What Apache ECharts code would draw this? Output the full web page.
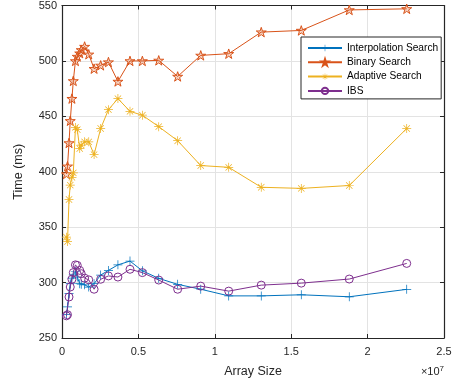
<!DOCTYPE html>
<html>
<head>
<meta charset="utf-8">
<script src="https://cdn.jsdelivr.net/npm/echarts@6/dist/echarts.min.js"></script>
<style>
html,body{margin:0;padding:0;background:#fff;}
#chart{width:474px;height:385px;}
</style>
</head>
<body>
<div id="chart"></div>
<script>
// Array sizes (shared x values)
const arraySize = [
  290000, 360000, 460000, 540000, 650000, 740000, 880000, 1000000, 1160000, 1260000,
  1480000, 1750000, 2100000, 2530000, 3040000, 3660000, 4450000, 5260000, 6330000,
  7570000, 9080000, 10910000, 13040000, 15660000, 18800000, 22560000
];
const interpolationSearch = [
  271, 278, 290, 299, 304, 307, 310, 305, 299, 298.5,
  298, 296, 299, 306.8, 311, 316, 319.4, 310.6, 303.8,
  298.4, 294, 288, 288, 289, 287.2, 293.9
];
const binarySearch = [
  398, 405, 426, 446, 466, 482, 500, 504, 507, 510,
  513, 506, 493, 496, 499, 481.5, 500, 500, 500.5,
  486, 505, 506.5, 526, 527.5, 546, 547
];
const adaptiveSearch = [
  341, 337, 375, 388, 395, 399, 440, 438, 421, 424,
  427, 427, 415.5, 439, 456, 466, 454.5, 451, 440.7,
  428, 405.6, 404, 386, 385, 387.6, 439
];
const ibs = [
  270, 271, 287, 296, 303, 309, 316, 315.5, 311, 308,
  304, 302.5, 294, 303, 306, 305, 312, 309, 302.3,
  294, 296.8, 292.3, 297.7, 299.5, 303.2, 317.3
];
const seriesNames = ['Interpolation Search', 'Binary Search', 'Adaptive Search', 'IBS'];
const colors = ['#0072BD', '#D95319', '#EDB120', '#7E2F8E'];
const xTicks = [0, 5e6, 1e7, 1.5e7, 2e7, 2.5e7];
const yTicks = [250, 300, 350, 400, 450, 500, 550];

const FONT = '"Liberation Sans", Arial, Helvetica, sans-serif';
const INK = '#262626';

const plusPath = 'path://M9.2,0 H10.8 V9.2 H20 V10.8 H10.8 V20 H9.2 V10.8 H0 V9.2 H9.2 Z';
const asteriskPath = 'path://M0,9.2 H20 V10.8 H0 Z M9.2,0 H10.8 V20 H9.2 Z M2.4,3.5 L3.5,2.4 L17.6,16.5 L16.5,17.6 Z M16.5,2.4 L17.6,3.5 L3.5,17.6 L2.4,16.5 Z';
const starPath = 'path://M10,0 L12.245,6.91 L19.511,6.91 L13.633,11.18 L15.878,18.09 L10,13.82 L4.122,18.09 L6.367,11.18 L0.489,6.91 L7.755,6.91 Z';

function pairs(ys) { return arraySize.map((x, i) => [x, ys[i]]); }

const chart = echarts.init(document.getElementById('chart'), null, {renderer: 'canvas'});

const baseX = {
  type: 'value', min: xTicks[0], max: xTicks[xTicks.length - 1], interval: 5e6,
  axisLine: {show: true, onZero: false, lineStyle: {color: INK, width: 1.2}},
  axisTick: {show: true, inside: true, length: 4, lineStyle: {color: INK, width: 1}},
};
const baseY = {
  type: 'value', min: yTicks[0], max: yTicks[yTicks.length - 1], interval: 50,
  axisLine: {show: true, onZero: false, lineStyle: {color: INK, width: 1.2}},
  axisTick: {show: true, inside: true, length: 4, lineStyle: {color: INK, width: 1}},
};

const option = {
  animation: false,
  backgroundColor: '#ffffff',
  grid: {left: 62, right: 30, top: 5, bottom: 47, containLabel: false},
  xAxis: [
    Object.assign({}, baseX, {
      position: 'bottom',
      name: 'Array Size', nameLocation: 'middle', nameGap: 27,
      nameTextStyle: {color: INK, fontSize: 12.5, fontFamily: FONT},
      axisLabel: {color: INK, fontSize: 11, fontFamily: FONT, margin: 8,
        formatter: v => String(+(v / 1e7).toFixed(1))},
      splitLine: {show: true, lineStyle: {color: '#e3e3e3', width: 1}}
    }),
    Object.assign({}, baseX, {
      position: 'top', axisLabel: {show: false}, splitLine: {show: false}
    })
  ],
  yAxis: [
    Object.assign({}, baseY, {
      position: 'left',
      name: 'Time (ms)', nameLocation: 'middle', nameGap: 37, nameRotate: 90,
      nameTextStyle: {color: INK, fontSize: 12.5, fontFamily: FONT},
      axisLabel: {color: INK, fontSize: 11, fontFamily: FONT, margin: 5},
      splitLine: {show: true, lineStyle: {color: '#e3e3e3', width: 1}}
    }),
    Object.assign({}, baseY, {
      position: 'right', axisLabel: {show: false}, splitLine: {show: false}
    })
  ],
  legend: {
    show: true, orient: 'vertical', left: 301, top: 37,
    backgroundColor: '#ffffff', borderColor: INK, borderWidth: 1,
    padding: [6, 3, 3, 6], itemGap: 4.3, itemWidth: 34, itemHeight: 8,
    textStyle: {color: '#000', fontSize: 10.2, fontFamily: FONT},
    data: seriesNames
  },
  graphic: [{
    type: 'text', right: 30, top: 365,
    style: {
      text: '×10{s|7}', fill: INK, font: '11px ' + FONT,
      rich: {s: {fontSize: 8, verticalAlign: 'top', padding: [0, 0, 6, 0], fill: INK, fontFamily: FONT}}
    }
  }],
  series: [
    {
      name: seriesNames[0], type: 'line', data: pairs(interpolationSearch),
      symbol: plusPath, symbolSize: 9,
      lineStyle: {color: colors[0], width: 1},
      itemStyle: {color: colors[0]}, z: 2
    },
    {
      name: seriesNames[1], type: 'line', data: pairs(binarySearch),
      symbol: starPath, symbolSize: 10, symbolKeepAspect: true,
      lineStyle: {color: colors[1], width: 1},
      itemStyle: {color: 'rgba(217,83,25,0.25)', borderColor: colors[1], borderWidth: 1}, z: 3
    },
    {
      name: seriesNames[2], type: 'line', data: pairs(adaptiveSearch),
      symbol: asteriskPath, symbolSize: 9,
      lineStyle: {color: colors[2], width: 1},
      itemStyle: {color: colors[2]}, z: 4
    },
    {
      name: seriesNames[3], type: 'line', data: pairs(ibs),
      symbol: 'circle', symbolSize: 8,
      lineStyle: {color: colors[3], width: 1},
      itemStyle: {color: 'rgba(255,255,255,0)', borderColor: colors[3], borderWidth: 1}, z: 5
    }
  ]
};
chart.setOption(option);
</script>
</body>
</html>
